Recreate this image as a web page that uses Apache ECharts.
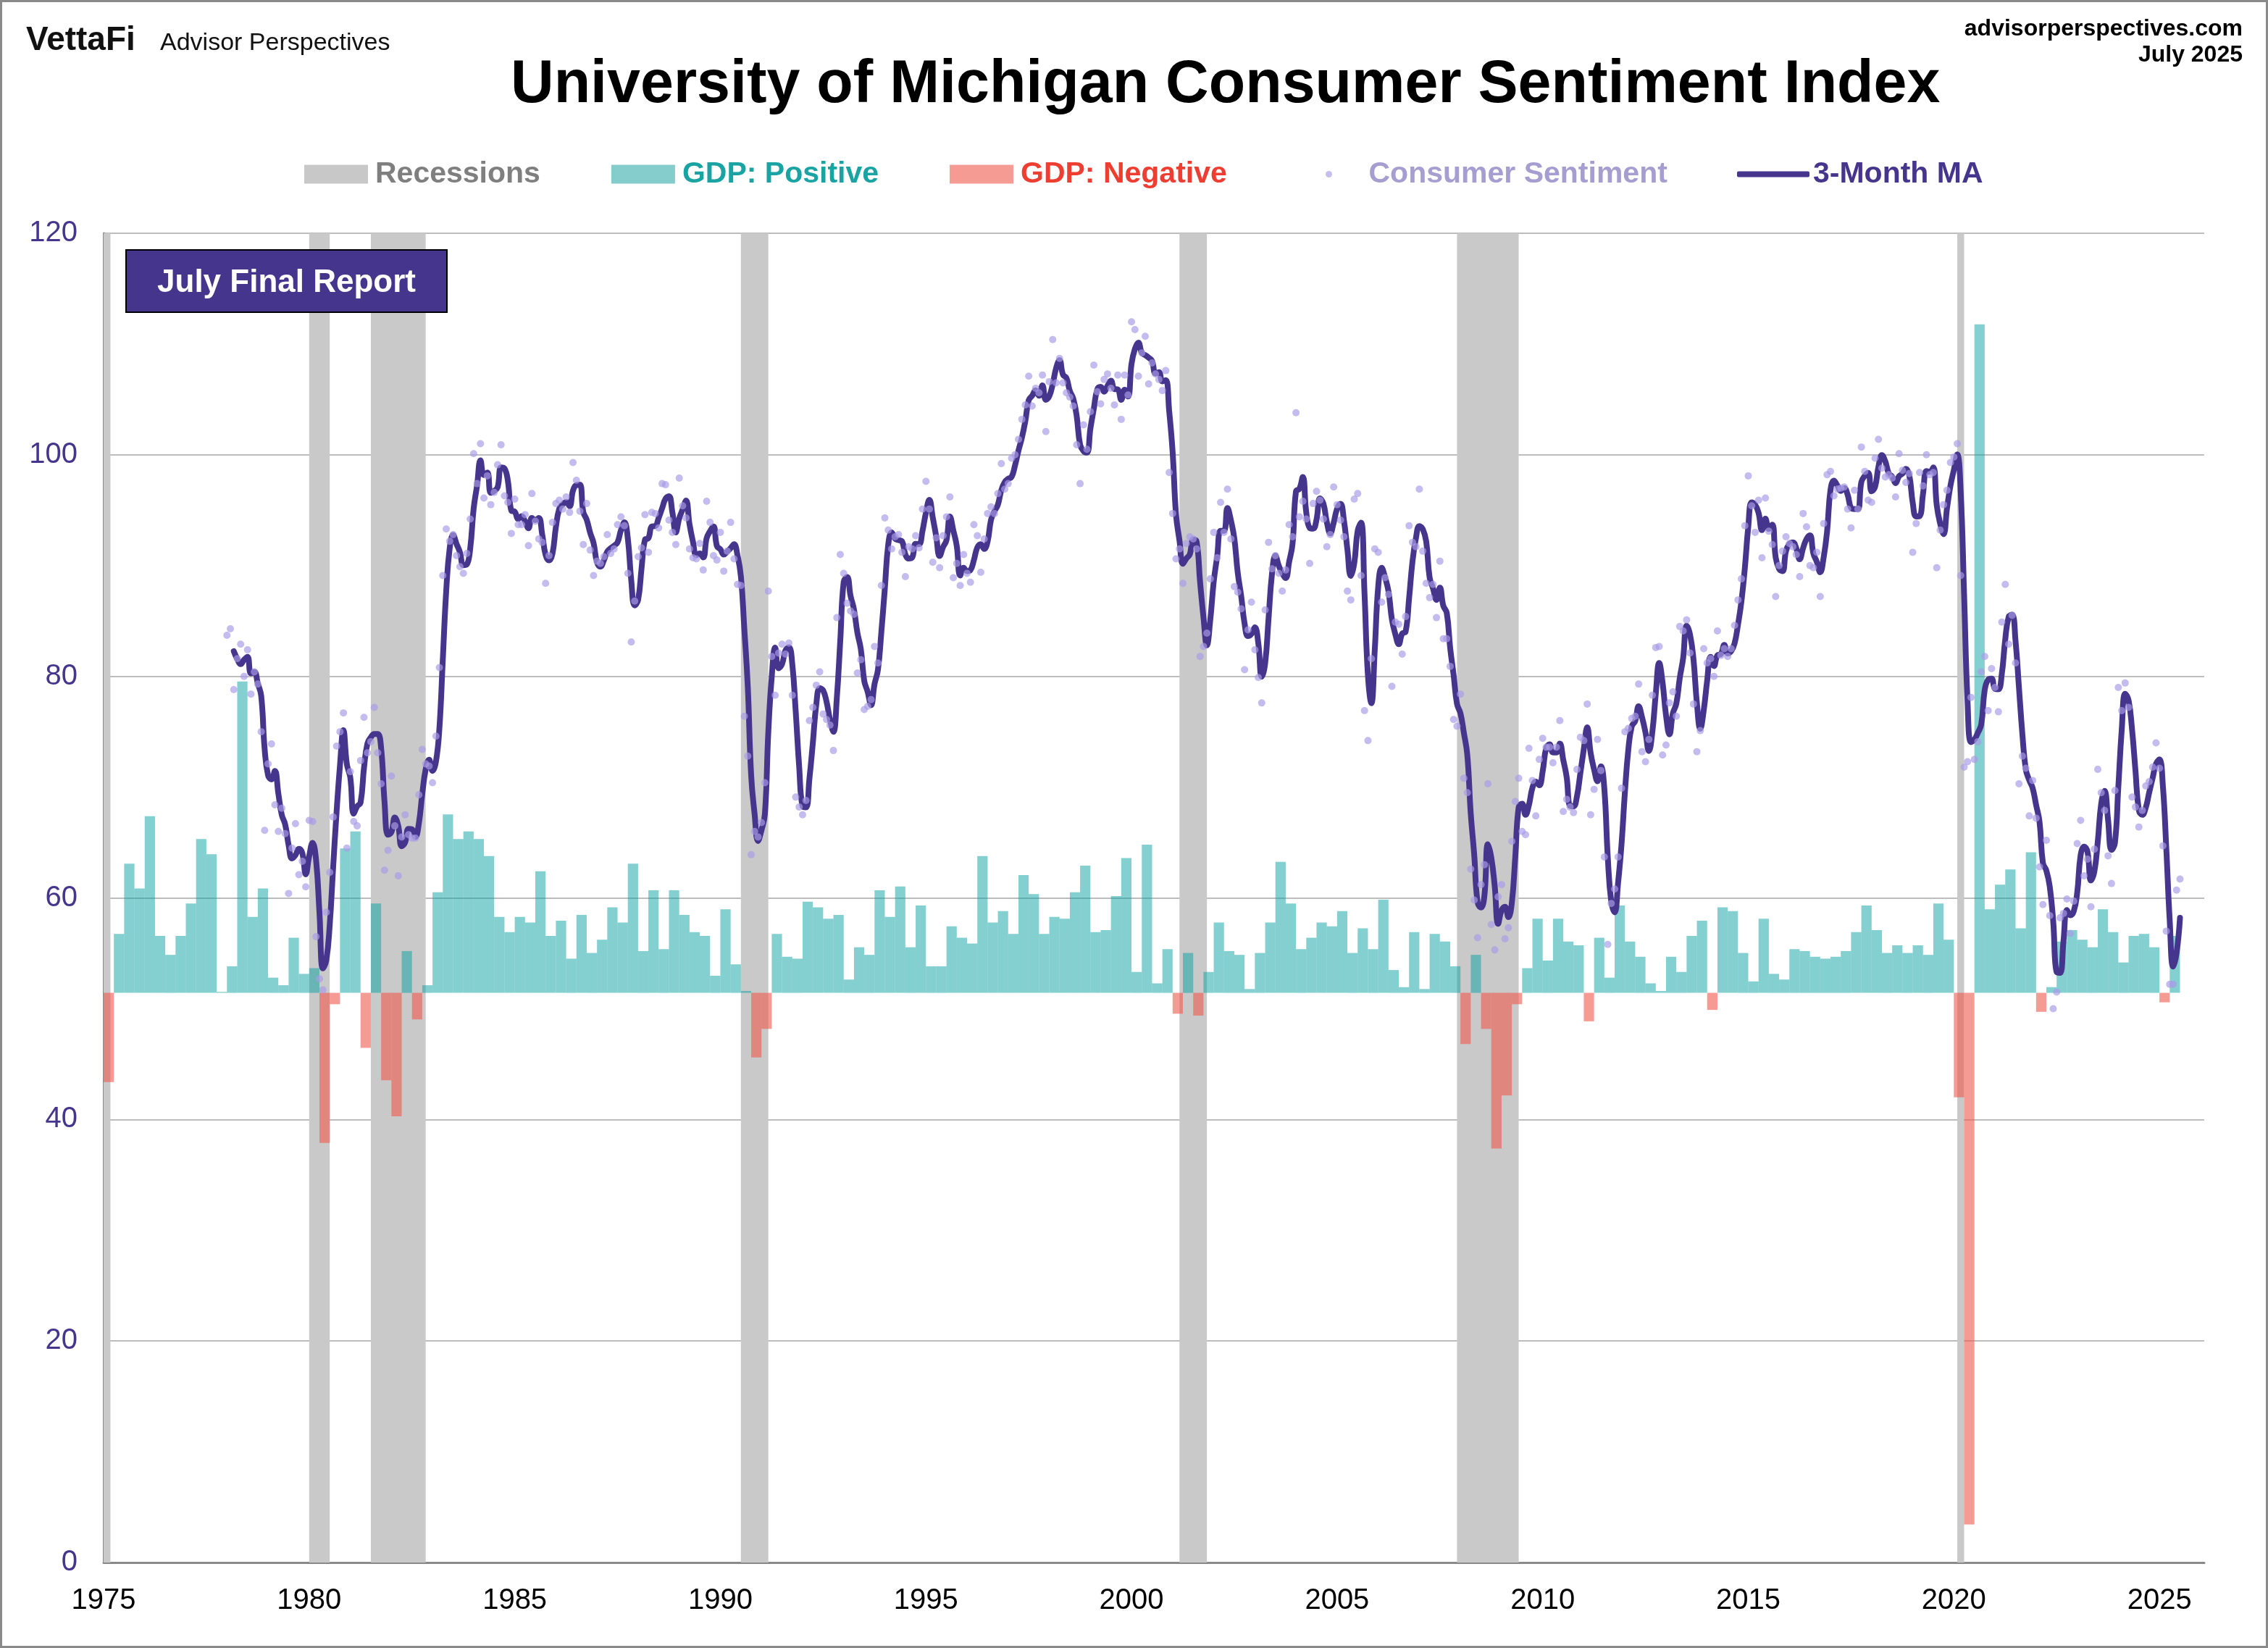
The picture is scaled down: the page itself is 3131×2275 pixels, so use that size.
<!DOCTYPE html>
<html><head><meta charset="utf-8">
<script src="https://cdn.jsdelivr.net/npm/echarts@6/dist/echarts.min.js"></script>
<style>html,body{margin:0;padding:0;background:#fff}#c{width:3131px;height:2275px}</style>
</head><body><div id="c"></div>
<script>
const FONT = '"Liberation Sans", Arial, Helvetica, sans-serif';

// Monthly University of Michigan Consumer Sentiment, starting January 1978
const sentimentStartYear = 1978;
const sentiment = [
  83.7, 84.3, 78.8, 81.6, 82.9, 80.0, 82.4, 78.4, 80.4, 79.3, 75.0, 66.1,
  72.1, 73.9, 68.4, 66.0, 68.1, 65.8, 60.4, 64.5, 66.7, 62.1, 63.3, 61.0,
  67.0, 66.9, 56.5, 52.7, 51.7, 58.7, 62.3, 67.3, 73.7, 75.0, 76.7, 64.5,
  71.4, 66.9, 66.5, 72.4, 76.3, 73.1, 74.1, 77.2, 73.1, 70.3, 62.5, 64.3,
  71.0, 66.5, 62.0, 65.5, 67.5, 65.7, 65.4, 65.4, 69.3, 73.4, 72.1, 71.9,
  70.4, 74.6, 80.8, 89.1, 93.3, 92.2, 92.8, 90.9, 89.9, 89.3, 91.1, 94.2,
  100.1, 97.4, 101.0, 96.1, 98.1, 95.5, 96.6, 99.1, 100.9, 96.3, 95.7, 92.9,
  96.0, 93.7, 93.7, 94.6, 91.8, 96.5, 94.0, 92.4, 92.1, 88.4, 90.9, 93.9,
  95.6, 95.9, 95.1, 96.2, 94.8, 99.3, 97.7, 94.9, 91.9, 95.6, 91.4, 89.1,
  90.4, 90.2, 90.8, 92.8, 91.1, 91.5, 93.7, 94.4, 93.6, 89.3, 83.1, 86.8,
  90.8, 91.6, 94.6, 91.2, 94.8, 94.7, 93.4, 97.4, 97.3, 94.1, 93.0, 91.9,
  97.9, 95.4, 94.3, 91.5, 90.7, 90.6, 92.0, 89.6, 95.8, 93.9, 90.9, 90.5,
  93.0, 89.5, 91.3, 93.9, 90.6, 88.3, 88.2, 76.4, 72.8, 63.9, 66.0, 65.5,
  66.8, 70.4, 87.7, 81.8, 78.3, 82.1, 82.9, 82.0, 83.0, 78.3, 69.1, 68.2,
  67.5, 68.8, 76.0, 77.2, 79.2, 80.4, 76.6, 76.1, 75.6, 73.3, 85.3, 91.0,
  89.3, 86.6, 85.9, 85.6, 80.3, 81.5, 77.0, 77.3, 77.9, 82.7, 81.2, 88.2,
  94.3, 93.2, 91.5, 92.6, 92.8, 91.2, 89.0, 91.7, 91.5, 92.7, 91.6, 95.1,
  97.6, 95.1, 90.3, 92.5, 89.8, 92.7, 94.4, 96.2, 88.9, 90.2, 88.2, 91.0,
  89.3, 88.5, 93.7, 92.7, 89.4, 92.4, 94.7, 95.3, 94.7, 96.5, 99.2, 96.9,
  97.4, 99.7, 100.0, 101.4, 103.2, 104.5, 107.1, 104.4, 106.0, 105.6, 107.2, 102.1,
  106.6, 110.4, 106.5, 108.7, 106.5, 105.6, 105.2, 104.4, 100.9, 97.4, 102.7, 100.5,
  103.9, 108.1, 105.7, 104.6, 106.8, 107.3, 106.0, 104.5, 107.2, 103.2, 107.2, 105.4,
  112.0, 111.3, 107.1, 109.2, 110.7, 106.4, 108.3, 107.3, 106.8, 105.8, 107.6, 98.4,
  94.7, 90.6, 91.5, 88.4, 92.0, 92.6, 92.4, 91.5, 81.8, 82.7, 83.9, 88.8,
  93.0, 90.7, 95.7, 93.0, 96.9, 92.4, 88.1, 87.6, 86.1, 80.6, 84.2, 86.7,
  82.4, 79.9, 77.6, 86.0, 92.1, 89.7, 90.9, 89.3, 87.7, 89.6, 93.7, 92.6,
  103.8, 94.4, 95.8, 94.2, 90.2, 95.6, 96.7, 95.9, 94.2, 91.7, 92.8, 97.1,
  95.5, 94.1, 92.6, 87.7, 86.9, 96.0, 96.5, 89.1, 76.9, 74.2, 81.6, 91.5,
  91.2, 86.7, 88.9, 87.4, 79.1, 84.9, 84.7, 82.0, 85.4, 93.6, 92.1, 91.7,
  96.9, 91.3, 88.4, 87.1, 88.3, 85.3, 90.4, 83.4, 83.4, 80.9, 76.1, 75.5,
  78.4, 70.8, 69.5, 62.6, 59.8, 56.4, 61.2, 63.0, 70.3, 57.6, 55.3, 60.1,
  61.2, 56.3, 57.3, 65.1, 68.7, 70.8, 66.0, 65.7, 73.5, 70.6, 67.4, 72.5,
  74.4, 73.6, 73.6, 72.2, 73.6, 76.0, 67.8, 68.9, 68.2, 67.7, 71.6, 74.5,
  74.2, 77.5, 67.5, 69.8, 74.3, 71.5, 63.7, 55.8, 59.5, 60.8, 63.7, 69.9,
  75.0, 75.3, 76.2, 76.4, 79.3, 73.2, 72.3, 74.3, 78.3, 82.6, 82.7, 72.9,
  73.8, 77.6, 78.6, 76.4, 84.5, 84.1, 85.1, 82.1, 77.5, 73.2, 75.1, 82.5,
  81.2, 81.6, 80.0, 84.1, 81.9, 82.5, 81.8, 82.5, 84.6, 86.9, 88.8, 93.6,
  98.1, 95.4, 93.0, 95.9, 90.7, 96.1, 93.1, 91.9, 87.2, 90.0, 91.3, 92.6,
  92.0, 91.7, 91.0, 89.0, 94.7, 93.5, 90.0, 89.8, 91.2, 87.2, 93.8, 98.2,
  98.5, 96.3, 96.9, 97.0, 97.1, 95.1, 93.4, 96.8, 95.1, 100.7, 98.5, 95.9,
  95.7, 99.7, 101.4, 98.8, 98.0, 98.2, 97.9, 96.2, 100.1, 98.6, 97.5, 98.3,
  91.2, 93.8, 98.4, 97.2, 100.0, 98.2, 98.4, 89.8, 93.2, 95.5, 96.8, 99.3,
  99.8, 101.0, 89.1, 71.8, 72.3, 78.1, 72.5, 74.1, 80.4, 81.8, 76.9, 80.7,
  79.0, 76.8, 84.9, 88.3, 82.9, 85.5, 81.2, 70.3, 72.8, 71.7, 67.4, 70.6,
  67.2, 62.8, 59.4, 65.2, 58.4, 50.0, 51.5, 58.2, 58.6, 59.9, 56.8, 59.7,
  64.9, 67.0, 62.0, 63.5, 59.2, 64.4, 71.6, 69.5, 67.9, 63.8, 61.3, 69.7,
  79.0, 76.9, 79.4, 77.2, 69.1, 68.2, 66.4, 67.9, 70.1, 70.5, 71.8, 74.0,
  71.7, 64.7, 57.0, 52.2, 52.2, 60.7, 61.7
];

// Quarterly real GDP growth (% annualized), starting 1975 Q1
const gdpStartYear = 1975;
const gdp = [
  -4.7, 3.1, 6.8, 5.5,
  9.3, 3.0, 2.0, 3.0,
  4.7, 8.1, 7.3, 0.05,
  1.4, 16.4, 4.0, 5.5,
  0.8, 0.4, 2.9, 1.0,
  1.3, -7.9, -0.6, 7.6,
  8.5, -2.9, 4.7, -4.6,
  -6.5, 2.2, -1.4, 0.4,
  5.3, 9.4, 8.1, 8.5,
  8.1, 7.2, 4.0, 3.2,
  4.0, 3.7, 6.4, 3.0,
  3.8, 1.8, 4.1, 2.1,
  2.8, 4.5, 3.7, 6.8,
  2.2, 5.4, 2.3, 5.4,
  4.1, 3.2, 3.0, 0.9,
  4.4, 1.5, 0.1, -3.4,
  -1.9, 3.1, 1.9, 1.8,
  4.8, 4.5, 3.9, 4.1,
  0.7, 2.4, 2.0, 5.4,
  4.0, 5.6, 2.4, 4.6,
  1.4, 1.4, 3.5, 2.9,
  2.6, 7.2, 3.7, 4.3,
  3.1, 6.2, 5.2, 3.1,
  4.0, 3.9, 5.3, 6.7,
  3.2, 3.3, 5.1, 7.1,
  1.1, 7.8, 0.5, 2.3,
  -1.1, 2.1, -1.2, 1.1,
  3.7, 2.2, 2.0, 0.2,
  2.1, 3.7, 6.9, 4.7,
  2.3, 2.9, 3.7, 3.5,
  4.3, 2.1, 3.4, 2.3,
  4.9, 1.2, 0.3, 3.2,
  0.2, 3.1, 2.7, 1.4,
  -2.7, 2.0, -1.9, -8.2,
  -5.4, -0.6, 1.3, 3.9,
  1.7, 3.9, 2.7, 2.5,
  -1.5, 2.9, 0.8, 4.6,
  2.7, 1.9, 0.5, 0.1,
  1.9, 1.1, 3.0, 3.8,
  -0.9, 4.5, 4.3, 2.1,
  0.6, 3.9, 1.0, 0.7,
  2.3, 2.2, 1.9, 1.8,
  1.9, 2.2, 3.2, 4.6,
  3.3, 2.1, 2.5, 2.1,
  2.5, 2.0, 4.7, 2.8,
  -5.5, -28.0, 35.2, 4.4,
  5.7, 6.5, 3.4, 7.4,
  -1.0, 0.3, 2.7, 3.3,
  2.8, 2.4, 4.4, 3.2,
  1.6, 3.0, 3.1, 2.4,
  -0.5, 3.0
];

// NBER recessions [start month, end month]
const recessions = [
  ['1973-11', '1975-03'], ['1980-01', '1980-07'], ['1981-07', '1982-11'],
  ['1990-07', '1991-03'], ['2001-03', '2001-11'], ['2007-12', '2009-06'],
  ['2020-02', '2020-04']
];

const xTickLabels = [1975, 1980, 1985, 1990, 1995, 2000, 2005, 2010, 2015, 2020, 2025];
const yTickLabels = [0, 20, 40, 60, 80, 100, 120];

// ---- build library data ----
const ym = s => { const [y, m] = s.split('-').map(Number); return y + (m - 1) / 12; };
const sentData = sentiment.map((v, i) => [sentimentStartYear + i / 12, v]);
const maData = [];
for (let i = 2; i < sentiment.length; i++) {
  maData.push([sentimentStartYear + i / 12, +((sentiment[i - 2] + sentiment[i - 1] + sentiment[i]) / 3).toFixed(3)]);
}
const gdpPos = [], gdpNeg = [];
gdp.forEach((v, i) => {
  const x0 = gdpStartYear + i / 4, x1 = x0 + 0.25;
  (v >= 0 ? gdpPos : gdpNeg).push([x0, x1, v]);
});
const recData = recessions.map(([a, b]) => [ym(a), ym(b), yTickLabels[yTickLabels.length - 1]]);

const C_REC = '#c9c9c9';
const C_POS = 'rgba(10,160,162,0.5)';
const C_NEG = 'rgba(238,91,80,0.61)';
const C_DOT = 'rgba(168,156,230,0.85)';
const C_MA = '#45358c';

function rectItem(color, fromTop) {
  return function (params, api) {
    const x0 = api.value(0), x1 = api.value(1), v = api.value(2);
    const a = api.coord([x0, fromTop ? v : 0]);
    const b = api.coord([x1, fromTop ? 0 : v]);
    const cs = params.coordSys;
    const shape = echarts.graphic.clipRectByRect(
      { x: a[0], y: Math.min(a[1], b[1]), width: b[0] - a[0], height: Math.abs(b[1] - a[1]) },
      { x: cs.x, y: cs.y, width: cs.width, height: cs.height });
    if (!shape) return null;
    return { type: 'rect', shape: shape, style: { fill: color } };
  };
}

const chart = echarts.init(document.getElementById('c'), null, { renderer: 'canvas' });
const legendText = { fontFamily: FONT, fontSize: 41, fontWeight: 'bold', padding: [0, 0, 0, 5] };
chart.setOption({
  animation: false,
  backgroundColor: '#fff',
  textStyle: { fontFamily: FONT },
  title: {
    text: 'University of Michigan Consumer Sentiment Index',
    left: 705, top: 77, padding: 0,
    textStyle: { fontFamily: FONT, fontSize: 82.6, fontWeight: 'bold', color: '#000' }
  },
  legend: [
    {
      left: 415, top: 215, itemWidth: 88, itemHeight: 26, itemGap: 98,
      textStyle: legendText, selectedMode: false,
      data: [
        { name: 'Recessions', icon: 'rect', itemStyle: { color: '#c8c8c8' }, textStyle: { color: '#7f7f7f' } },
        { name: 'GDP: Positive', icon: 'rect', itemStyle: { color: '#85cccd' }, textStyle: { color: '#1aa3a3' } },
        { name: 'GDP: Negative', icon: 'rect', itemStyle: { color: '#f59b94' }, textStyle: { color: '#ee3d31' } }
      ]
    },
    {
      left: 1825, top: 215, itemWidth: 100, itemHeight: 9,
      textStyle: Object.assign({}, legendText, { padding: 0 }), selectedMode: false,
      data: [{ name: 'Consumer Sentiment', icon: 'circle', itemStyle: { color: '#b8aee8' }, textStyle: { color: '#a69dd0' } }]
    },
    {
      left: 2393, top: 215, itemWidth: 100, itemHeight: 8,
      textStyle: Object.assign({}, legendText, { padding: 0 }), selectedMode: false,
      data: [{ name: '3-Month MA', icon: 'roundRect', itemStyle: { color: C_MA }, textStyle: { color: C_MA } }]
    }
  ],
  grid: { left: 143, right: 88, top: 322, bottom: 118, containLabel: false },
  xAxis: {
    type: 'value', min: xTickLabels[0], max: 2026.09, interval: 5,
    axisLine: { show: true, onZero: false, lineStyle: { color: '#8a8a8a', width: 3 } },
    axisTick: { show: false }, splitLine: { show: false },
    axisLabel: {
      fontFamily: FONT, fontSize: 40, color: '#000', margin: 33, showMaxLabel: false,
      formatter: v => (xTickLabels.indexOf(Math.round(v)) >= 0 && Math.abs(v - Math.round(v)) < 1e-6) ? String(Math.round(v)) : ''
    }
  },
  yAxis: [
    {
      type: 'value', min: yTickLabels[0], max: yTickLabels[yTickLabels.length - 1], interval: 20,
      axisLine: { show: true, lineStyle: { color: '#8a8a8a', width: 3 } },
      axisTick: { show: false },
      splitLine: { show: true, lineStyle: { color: '#bdbdbd', width: 2 } },
      axisLabel: { fontFamily: FONT, fontSize: 40, color: '#45358c', margin: 36 }
    },
    { type: 'value', min: -30, max: 40, show: false, splitLine: { show: false } }
  ],
  series: [
    {
      name: 'Recessions', type: 'custom', z: 1, yAxisIndex: 0,
      itemStyle: { color: '#c8c8c8' },
      encode: { x: [0, 1], y: 2 }, renderItem: rectItem(C_REC, true), data: recData
    },
    {
      name: 'GDP: Positive', type: 'custom', z: 2, yAxisIndex: 1,
      itemStyle: { color: '#85cccd' },
      encode: { x: [0, 1], y: 2 }, renderItem: rectItem(C_POS, false), data: gdpPos
    },
    {
      name: 'GDP: Negative', type: 'custom', z: 2, yAxisIndex: 1,
      itemStyle: { color: '#f59b94' },
      encode: { x: [0, 1], y: 2 }, renderItem: rectItem(C_NEG, false), data: gdpNeg
    },
    {
      name: '3-Month MA', type: 'line', z: 3, yAxisIndex: 0, color: C_MA,
      showSymbol: false, smooth: 0.45, symbol: 'none',
      lineStyle: { width: 8, color: C_MA, cap: 'round', join: 'round' },
      itemStyle: { color: C_MA },
      data: maData
    },
    {
      name: 'Consumer Sentiment', type: 'scatter', z: 4, yAxisIndex: 0,
      symbolSize: 10, itemStyle: { color: C_DOT },
      data: sentData
    }
  ],
  graphic: [
    { type: 'rect', z: 100, shape: { x: 1.5, y: 1.5, width: 3128, height: 2272 }, style: { fill: 'none', stroke: '#8a8a8a', lineWidth: 3 } },
    { type: 'text', z: 100, style: { x: 36, y: 56, text: 'VettaFi', font: 'bold 46px ' + FONT, fill: '#111', verticalAlign: 'middle' } },
    { type: 'text', z: 100, style: { x: 221, y: 60, text: 'Advisor Perspectives', font: '34px ' + FONT, fill: '#111', verticalAlign: 'middle' } },
    { type: 'text', z: 100, style: { x: 3096, y: 40, text: 'advisorperspectives.com', font: 'bold 32px ' + FONT, fill: '#000', align: 'right', verticalAlign: 'middle' } },
    { type: 'text', z: 100, style: { x: 3096, y: 76, text: 'July 2025', font: 'bold 32px ' + FONT, fill: '#000', align: 'right', verticalAlign: 'middle' } },
    { type: 'rect', z: 100, shape: { x: 174, y: 345, width: 443, height: 86 }, style: { fill: '#45358c', stroke: '#000', lineWidth: 2 } },
    { type: 'text', z: 101, style: { x: 395.5, y: 391, text: 'July Final Report', font: 'bold 44px ' + FONT, fill: '#fff', align: 'center', verticalAlign: 'middle' } }
  ]
});
</script></body></html>
